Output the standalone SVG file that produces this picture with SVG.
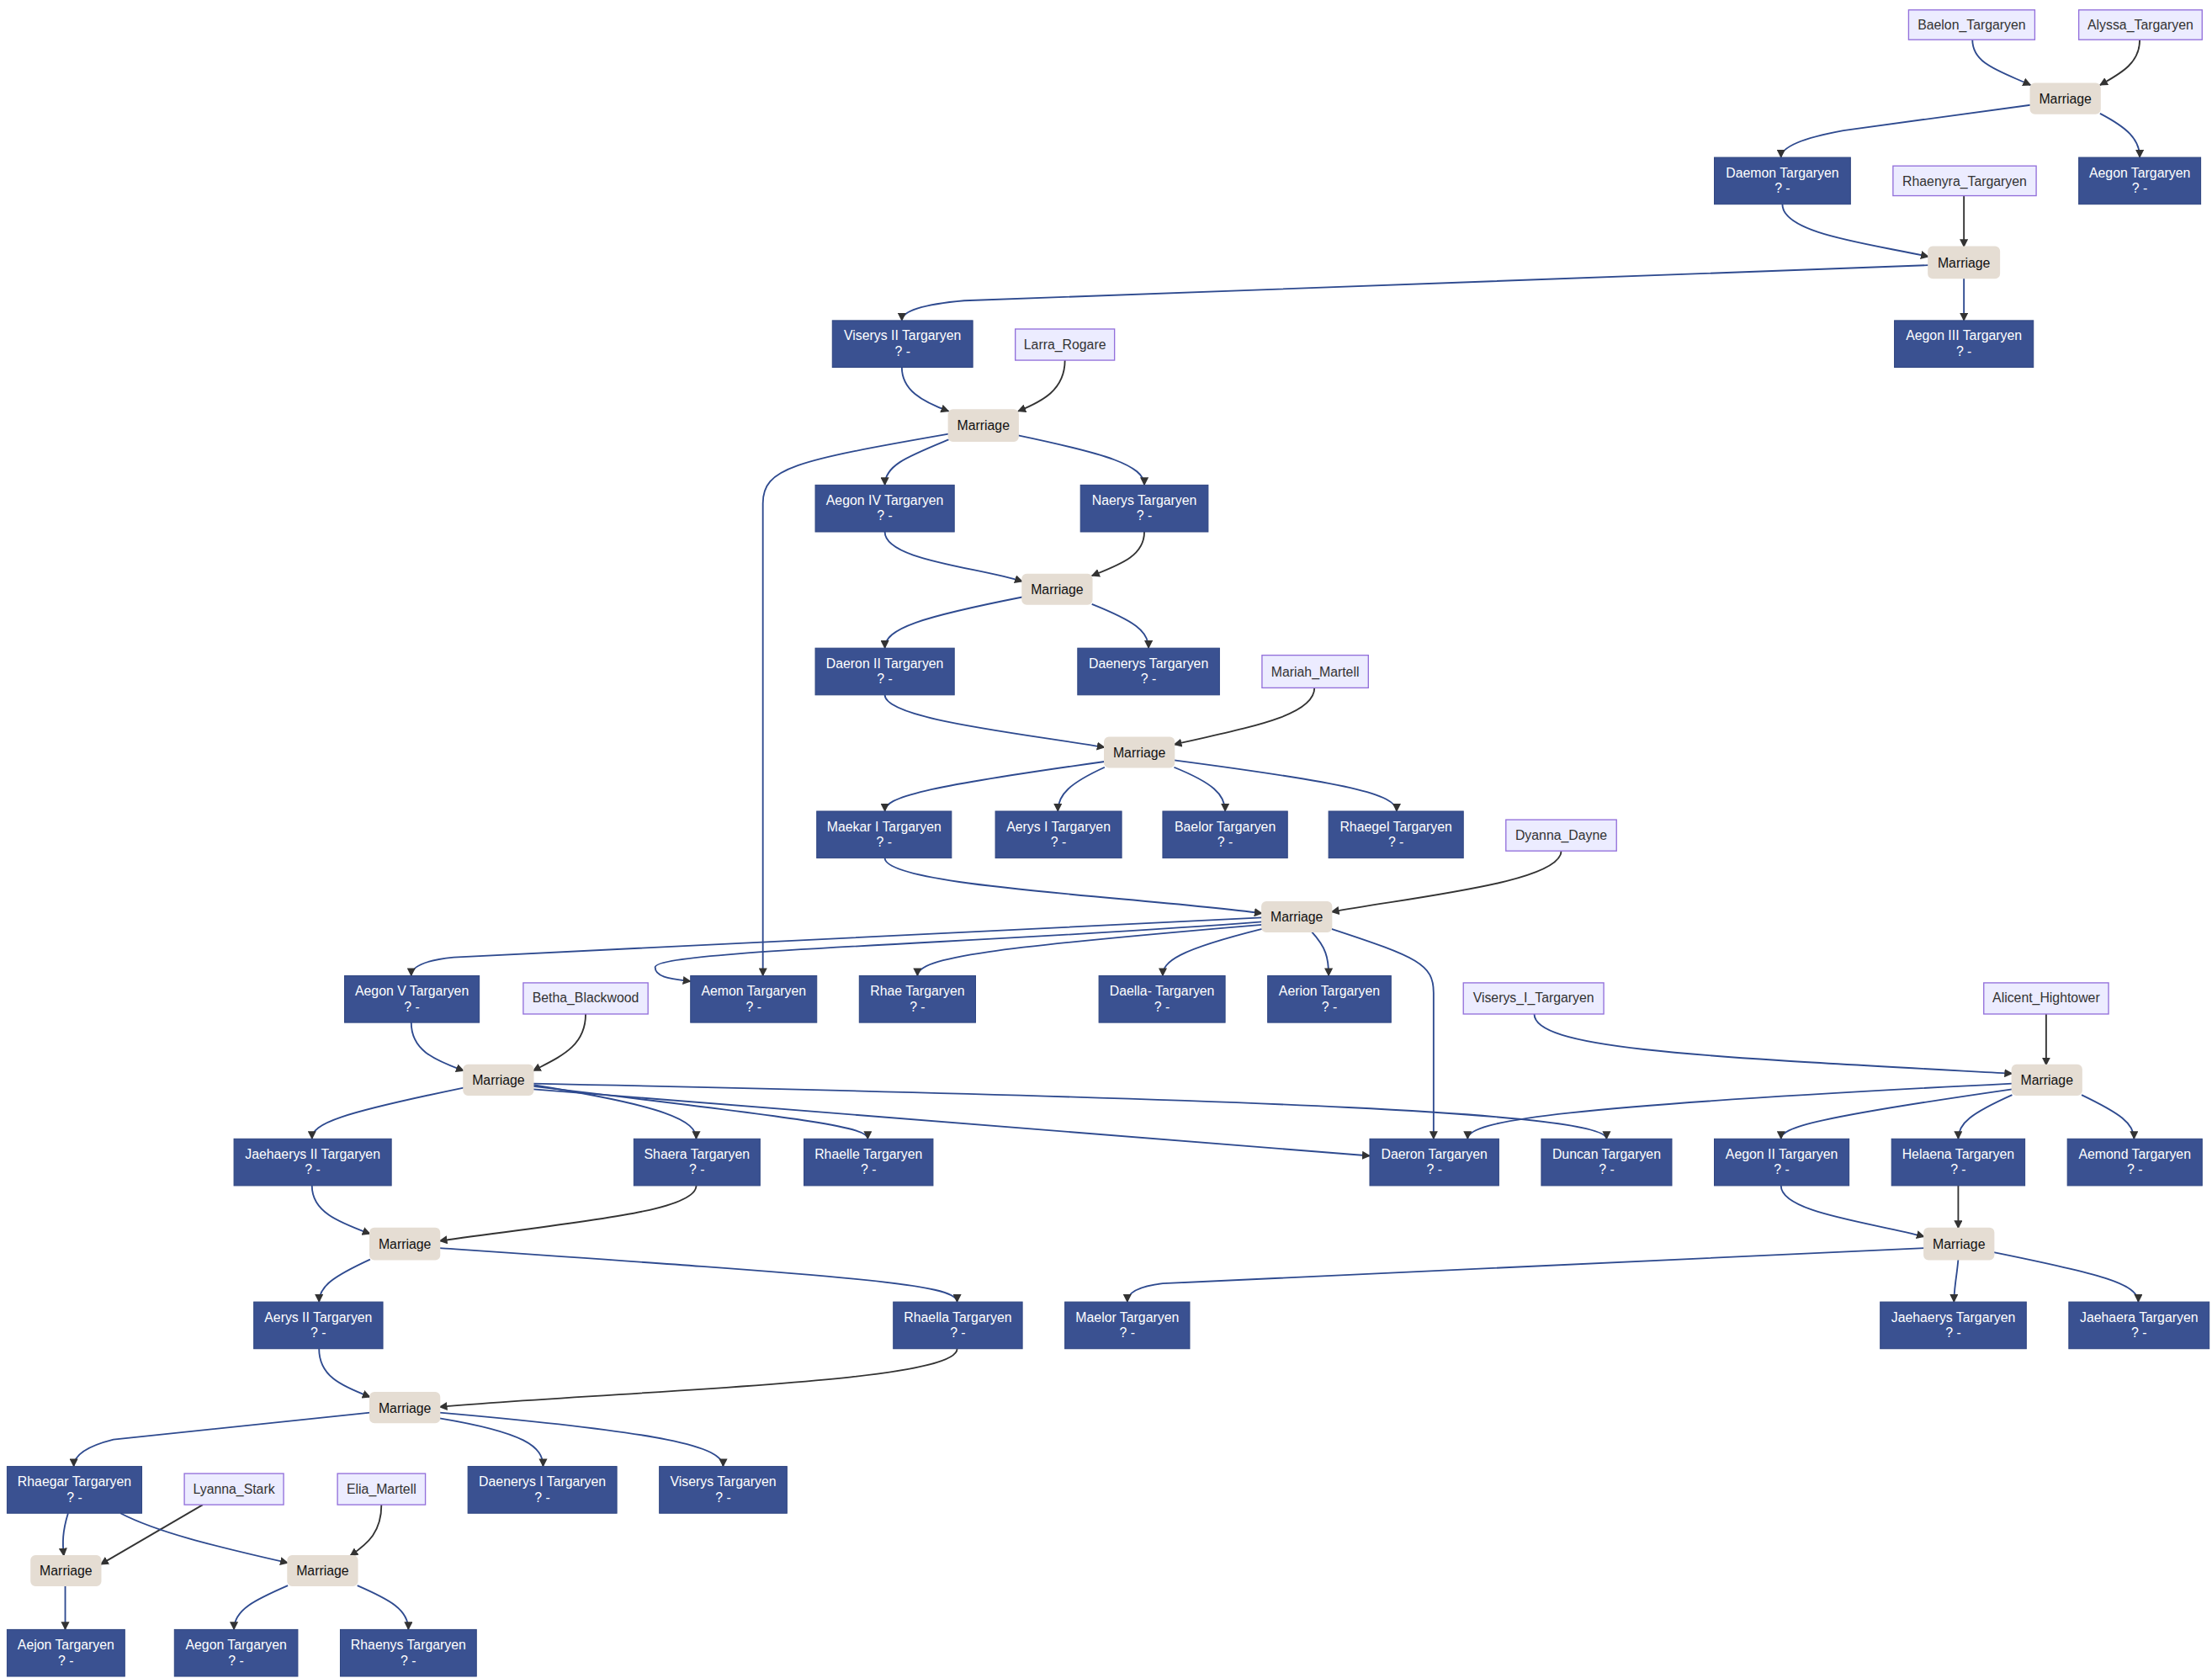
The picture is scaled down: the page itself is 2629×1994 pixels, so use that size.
<svg xmlns="http://www.w3.org/2000/svg" width="2629" height="1994" viewBox="0 0 2629 1994">
<style>
.p rect{fill:#3A5191;stroke:#2F4580;stroke-width:0.6}
.p text{fill:#fff}
.s rect{fill:#ECECFF;stroke:#9370DB;stroke-width:0.8}
.s text{fill:#333}
.m rect{fill:#E5DDD3;stroke:#E5DDD3}
.m text{fill:#111}
text{font-family:"Liberation Sans",Arial,sans-serif;font-size:9.4px;text-anchor:middle}
#edges path{fill:none;stroke-width:1.1}
.b{stroke:#2E4A8F}
.d{stroke:#333}
</style>
<defs>
<marker id="a" viewBox="0 0 10 10" refX="9" refY="5" markerWidth="6" markerHeight="6" markerUnits="userSpaceOnUse" orient="auto"><path d="M0,0L10,5L0,10z" fill="#333"/></marker>
</defs>
<rect width="2629" height="1994" fill="#fff"/>
<g transform="scale(1.6853)">
<g id="edges">
<path class="b" d="M1391,28 C1391,45 1410,50 1432,60" marker-end="url(#a)"/>
<path class="d" d="M1509,28 C1509,45 1495,52 1481,60" marker-end="url(#a)"/>
<path class="b" d="M1432,74 L1300,92 Q1256,100 1256,111" marker-end="url(#a)"/>
<path class="b" d="M1481,80 C1500,90 1509,98 1509,111" marker-end="url(#a)"/>
<path class="b" d="M1257,144 C1257,165 1320,172 1360,181" marker-end="url(#a)"/>
<path class="d" d="M1385,138 L1385,174" marker-end="url(#a)"/>
<path class="b" d="M1360,187 L680,212 Q636,216 636,226" marker-end="url(#a)"/>
<path class="b" d="M1385,196 L1385,226" marker-end="url(#a)"/>
<path class="b" d="M636,259 C636,275 650,283 669,290" marker-end="url(#a)"/>
<path class="d" d="M751,254 C751,275 735,283 718,290" marker-end="url(#a)"/>
<path class="b" d="M669,310 C640,322 624,328 624,342" marker-end="url(#a)"/>
<path class="b" d="M718,307 C780,320 807,328 807,342" marker-end="url(#a)"/>
<path class="b" d="M669,306 C560,325 538,330 538,355 L538,688" marker-end="url(#a)"/>
<path class="b" d="M624,375 C624,395 690,400 721,410" marker-end="url(#a)"/>
<path class="d" d="M807,375 C807,392 790,398 770,406" marker-end="url(#a)"/>
<path class="b" d="M721,421 C650,435 624,443 624,457" marker-end="url(#a)"/>
<path class="b" d="M770,426 C800,438 810,445 810,457" marker-end="url(#a)"/>
<path class="b" d="M624,490 C624,507 720,517 779,527" marker-end="url(#a)"/>
<path class="d" d="M927,485 C927,505 880,513 828,525" marker-end="url(#a)"/>
<path class="b" d="M779,537 C650,555 624,562 624,572" marker-end="url(#a)"/>
<path class="b" d="M779,541 C755,552 746,560 746,572" marker-end="url(#a)"/>
<path class="b" d="M828,541 C855,552 864,560 864,572" marker-end="url(#a)"/>
<path class="b" d="M828,536 C950,552 985,560 985,572" marker-end="url(#a)"/>
<path class="b" d="M624,605 C624,625 800,632 890,644" marker-end="url(#a)"/>
<path class="d" d="M1101,600 C1101,622 1000,632 939,643" marker-end="url(#a)"/>
<path class="b" d="M890,647 L320,675 Q290,678 290,688" marker-end="url(#a)"/>
<path class="b" d="M890,650 C700,665 462,670 462,682 C462,689 472,690 487,692" marker-end="url(#a)"/>
<path class="b" d="M890,652 C700,668 647,675 647,688" marker-end="url(#a)"/>
<path class="b" d="M890,655 C830,670 820,678 820,688" marker-end="url(#a)"/>
<path class="b" d="M925,657 C935,668 937,675 937,688" marker-end="url(#a)"/>
<path class="b" d="M939,655 C1000,675 1011,680 1011,700 L1011,803" marker-end="url(#a)"/>
<path class="b" d="M290,721 C290,740 305,747 327,755" marker-end="url(#a)"/>
<path class="d" d="M413,715 C413,738 395,745 376,755" marker-end="url(#a)"/>
<path class="b" d="M327,767 C240,785 220,792 220,803" marker-end="url(#a)"/>
<path class="b" d="M376,765 C470,780 491,790 491,803" marker-end="url(#a)"/>
<path class="b" d="M376,766 C580,790 612,795 612,803" marker-end="url(#a)"/>
<path class="b" d="M376,768 L966,815" marker-end="url(#a)"/>
<path class="b" d="M376,764 C900,775 1133,785 1133,803" marker-end="url(#a)"/>
<path class="b" d="M1082,715 C1082,740 1200,745 1419,757" marker-end="url(#a)"/>
<path class="d" d="M1443,715 L1443,751" marker-end="url(#a)"/>
<path class="b" d="M1419,764 C1100,780 1035,790 1035,803" marker-end="url(#a)"/>
<path class="b" d="M1419,768 C1280,788 1256,795 1256,803" marker-end="url(#a)"/>
<path class="b" d="M1419,772 C1390,785 1381,792 1381,803" marker-end="url(#a)"/>
<path class="b" d="M1468,772 C1495,785 1505,792 1505,803" marker-end="url(#a)"/>
<path class="b" d="M220,836 C220,855 240,862 261,870" marker-end="url(#a)"/>
<path class="d" d="M491,836 C491,855 400,862 310,875" marker-end="url(#a)"/>
<path class="b" d="M261,888 C235,900 225,907 225,918" marker-end="url(#a)"/>
<path class="b" d="M310,880 C600,900 675,905 675,918" marker-end="url(#a)"/>
<path class="b" d="M1256,836 C1256,855 1320,862 1357,872" marker-end="url(#a)"/>
<path class="d" d="M1381,836 L1381,866" marker-end="url(#a)"/>
<path class="b" d="M1357,880 L820,905 Q795,908 795,918" marker-end="url(#a)"/>
<path class="b" d="M1381,888 C1380,900 1378,908 1378,918" marker-end="url(#a)"/>
<path class="b" d="M1406,883 C1480,898 1508,905 1508,918" marker-end="url(#a)"/>
<path class="b" d="M225,951 C225,970 240,977 261,985" marker-end="url(#a)"/>
<path class="d" d="M675,951 C675,975 450,980 310,992" marker-end="url(#a)"/>
<path class="b" d="M261,996 L80,1015 Q52,1022 52,1034" marker-end="url(#a)"/>
<path class="b" d="M310,1000 C370,1010 383,1020 383,1034" marker-end="url(#a)"/>
<path class="b" d="M310,996 C470,1010 510,1020 510,1034" marker-end="url(#a)"/>
<path class="b" d="M48,1067 C44,1080 44,1088 45,1097" marker-end="url(#a)"/>
<path class="d" d="M143,1061 L71,1103" marker-end="url(#a)"/>
<path class="b" d="M85,1067 C110,1080 150,1090 203,1102" marker-end="url(#a)"/>
<path class="d" d="M269,1061 C269,1080 260,1088 247,1097" marker-end="url(#a)"/>
<path class="b" d="M46,1118 L46,1149" marker-end="url(#a)"/>
<path class="b" d="M203,1118 C180,1128 165,1135 165,1149" marker-end="url(#a)"/>
<path class="b" d="M252,1118 C275,1128 288,1135 288,1149" marker-end="url(#a)"/>
</g>
<!-- spouses -->
<g id="baelon" class="s"><rect x="1346" y="7" width="89" height="21"/><text x="1390.5" y="21">Baelon_Targaryen</text></g>
<g id="alyssa" class="s"><rect x="1466" y="7" width="87" height="21"/><text x="1509.5" y="21">Alyssa_Targaryen</text></g>
<g id="rhaenyra" class="s"><rect x="1335" y="117" width="101" height="21"/><text x="1385.5" y="131">Rhaenyra_Targaryen</text></g>
<g id="larra" class="s"><rect x="716" y="232" width="70" height="22"/><text x="751" y="246">Larra_Rogare</text></g>
<g id="mariah" class="s"><rect x="890" y="462" width="75" height="23"/><text x="927.5" y="477">Mariah_Martell</text></g>
<g id="dyanna" class="s"><rect x="1062" y="578" width="78" height="22"/><text x="1101" y="592">Dyanna_Dayne</text></g>
<g id="betha" class="s"><rect x="369" y="693" width="88" height="22"/><text x="413" y="707">Betha_Blackwood</text></g>
<g id="viserys1" class="s"><rect x="1032" y="693" width="99" height="22"/><text x="1081.5" y="707">Viserys_I_Targaryen</text></g>
<g id="alicent" class="s"><rect x="1399" y="693" width="88" height="22"/><text x="1443" y="707">Alicent_Hightower</text></g>
<g id="lyanna" class="s"><rect x="130" y="1039" width="70" height="22"/><text x="165" y="1053">Lyanna_Stark</text></g>
<g id="elia" class="s"><rect x="238" y="1039" width="62" height="22"/><text x="269" y="1053">Elia_Martell</text></g>
<!-- persons -->
<g id="daemon" class="p"><rect x="1209" y="111" width="96" height="33"/><text x="1257" y="125">Daemon Targaryen</text><text x="1257" y="136">? -</text></g>
<g id="aegon_top" class="p"><rect x="1466" y="111" width="86" height="33"/><text x="1509" y="125">Aegon Targaryen</text><text x="1509" y="136">? -</text></g>
<g id="viserys2" class="p"><rect x="587" y="226" width="99" height="33"/><text x="636.5" y="240">Viserys II Targaryen</text><text x="636.5" y="251">? -</text></g>
<g id="aegon3" class="p"><rect x="1336" y="226" width="98" height="33"/><text x="1385" y="240">Aegon III Targaryen</text><text x="1385" y="251">? -</text></g>
<g id="aegon4" class="p"><rect x="575" y="342" width="98" height="33"/><text x="624" y="356">Aegon IV Targaryen</text><text x="624" y="367">? -</text></g>
<g id="naerys" class="p"><rect x="762" y="342" width="90" height="33"/><text x="807" y="356">Naerys Targaryen</text><text x="807" y="367">? -</text></g>
<g id="daeron2" class="p"><rect x="575" y="457" width="98" height="33"/><text x="624" y="471">Daeron II Targaryen</text><text x="624" y="482">? -</text></g>
<g id="daenerys" class="p"><rect x="760" y="457" width="100" height="33"/><text x="810" y="471">Daenerys Targaryen</text><text x="810" y="482">? -</text></g>
<g id="maekar" class="p"><rect x="576" y="572" width="95" height="33"/><text x="623.5" y="586">Maekar I Targaryen</text><text x="623.5" y="597">? -</text></g>
<g id="aerys1" class="p"><rect x="702" y="572" width="89" height="33"/><text x="746.5" y="586">Aerys I Targaryen</text><text x="746.5" y="597">? -</text></g>
<g id="baelor" class="p"><rect x="820" y="572" width="88" height="33"/><text x="864" y="586">Baelor Targaryen</text><text x="864" y="597">? -</text></g>
<g id="rhaegel" class="p"><rect x="937" y="572" width="95" height="33"/><text x="984.5" y="586">Rhaegel Targaryen</text><text x="984.5" y="597">? -</text></g>
<g id="aegon5" class="p"><rect x="243" y="688" width="95" height="33"/><text x="290.5" y="702">Aegon V Targaryen</text><text x="290.5" y="713">? -</text></g>
<g id="aemon" class="p"><rect x="487" y="688" width="89" height="33"/><text x="531.5" y="702">Aemon Targaryen</text><text x="531.5" y="713">? -</text></g>
<g id="rhae" class="p"><rect x="606" y="688" width="82" height="33"/><text x="647" y="702">Rhae Targaryen</text><text x="647" y="713">? -</text></g>
<g id="daella" class="p"><rect x="775" y="688" width="89" height="33"/><text x="819.5" y="702">Daella- Targaryen</text><text x="819.5" y="713">? -</text></g>
<g id="aerion" class="p"><rect x="894" y="688" width="87" height="33"/><text x="937.5" y="702">Aerion Targaryen</text><text x="937.5" y="713">? -</text></g>
<g id="jaehaerys2" class="p"><rect x="165" y="803" width="111" height="33"/><text x="220.5" y="817">Jaehaerys II Targaryen</text><text x="220.5" y="828">? -</text></g>
<g id="shaera" class="p"><rect x="447" y="803" width="89" height="33"/><text x="491.5" y="817">Shaera Targaryen</text><text x="491.5" y="828">? -</text></g>
<g id="rhaelle" class="p"><rect x="567" y="803" width="91" height="33"/><text x="612.5" y="817">Rhaelle Targaryen</text><text x="612.5" y="828">? -</text></g>
<g id="daeron" class="p"><rect x="966" y="803" width="91" height="33"/><text x="1011.5" y="817">Daeron Targaryen</text><text x="1011.5" y="828">? -</text></g>
<g id="duncan" class="p"><rect x="1087" y="803" width="92" height="33"/><text x="1133" y="817">Duncan Targaryen</text><text x="1133" y="828">? -</text></g>
<g id="aegon2" class="p"><rect x="1209" y="803" width="95" height="33"/><text x="1256.5" y="817">Aegon II Targaryen</text><text x="1256.5" y="828">? -</text></g>
<g id="helaena" class="p"><rect x="1334" y="803" width="94" height="33"/><text x="1381" y="817">Helaena Targaryen</text><text x="1381" y="828">? -</text></g>
<g id="aemond" class="p"><rect x="1458" y="803" width="95" height="33"/><text x="1505.5" y="817">Aemond Targaryen</text><text x="1505.5" y="828">? -</text></g>
<g id="aerys2" class="p"><rect x="179" y="918" width="91" height="33"/><text x="224.5" y="932">Aerys II Targaryen</text><text x="224.5" y="943">? -</text></g>
<g id="rhaella" class="p"><rect x="630" y="918" width="91" height="33"/><text x="675.5" y="932">Rhaella Targaryen</text><text x="675.5" y="943">? -</text></g>
<g id="maelor" class="p"><rect x="751" y="918" width="88" height="33"/><text x="795" y="932">Maelor Targaryen</text><text x="795" y="943">? -</text></g>
<g id="jaehaerys" class="p"><rect x="1326" y="918" width="103" height="33"/><text x="1377.5" y="932">Jaehaerys Targaryen</text><text x="1377.5" y="943">? -</text></g>
<g id="jaehaera" class="p"><rect x="1459" y="918" width="99" height="33"/><text x="1508.5" y="932">Jaehaera Targaryen</text><text x="1508.5" y="943">? -</text></g>
<g id="rhaegar" class="p"><rect x="5" y="1034" width="95" height="33"/><text x="52.5" y="1048">Rhaegar Targaryen</text><text x="52.5" y="1059">? -</text></g>
<g id="daenerys1" class="p"><rect x="330" y="1034" width="105" height="33"/><text x="382.5" y="1048">Daenerys I Targaryen</text><text x="382.5" y="1059">? -</text></g>
<g id="viserys" class="p"><rect x="465" y="1034" width="90" height="33"/><text x="510" y="1048">Viserys Targaryen</text><text x="510" y="1059">? -</text></g>
<g id="aejon" class="p"><rect x="5" y="1149" width="83" height="33"/><text x="46.5" y="1163">Aejon Targaryen</text><text x="46.5" y="1174">? -</text></g>
<g id="aegon_bottom" class="p"><rect x="123" y="1149" width="87" height="33"/><text x="166.5" y="1163">Aegon Targaryen</text><text x="166.5" y="1174">? -</text></g>
<g id="rhaenys" class="p"><rect x="240" y="1149" width="96" height="33"/><text x="288" y="1163">Rhaenys Targaryen</text><text x="288" y="1174">? -</text></g>
<!-- marriages -->
<g id="m1" class="m"><rect x="1432" y="59" width="49" height="21" rx="3"/><text x="1456.5" y="73">Marriage</text></g>
<g id="m2" class="m"><rect x="1360" y="174" width="50" height="22" rx="3"/><text x="1385" y="188.5">Marriage</text></g>
<g id="m3" class="m"><rect x="669" y="289" width="49" height="22" rx="3"/><text x="693.5" y="303.5">Marriage</text></g>
<g id="m4" class="m"><rect x="721" y="405" width="49" height="21" rx="3"/><text x="745.5" y="419">Marriage</text></g>
<g id="m5" class="m"><rect x="779" y="520" width="49" height="21" rx="3"/><text x="803.5" y="534">Marriage</text></g>
<g id="m6" class="m"><rect x="890" y="636" width="49" height="21" rx="3"/><text x="914.5" y="650">Marriage</text></g>
<g id="m7" class="m"><rect x="327" y="751" width="49" height="21" rx="3"/><text x="351.5" y="765">Marriage</text></g>
<g id="m8" class="m"><rect x="1419" y="751" width="49" height="21" rx="3"/><text x="1443.5" y="765">Marriage</text></g>
<g id="m9" class="m"><rect x="261" y="866" width="49" height="22" rx="3"/><text x="285.5" y="880.5">Marriage</text></g>
<g id="m10" class="m"><rect x="1357" y="866" width="49" height="22" rx="3"/><text x="1381.5" y="880.5">Marriage</text></g>
<g id="m11" class="m"><rect x="261" y="982" width="49" height="21" rx="3"/><text x="285.5" y="996">Marriage</text></g>
<g id="m12" class="m"><rect x="22" y="1097" width="49" height="21" rx="3"/><text x="46.5" y="1111">Marriage</text></g>
<g id="m13" class="m"><rect x="203" y="1097" width="49" height="21" rx="3"/><text x="227.5" y="1111">Marriage</text></g>
</g>
</svg>
